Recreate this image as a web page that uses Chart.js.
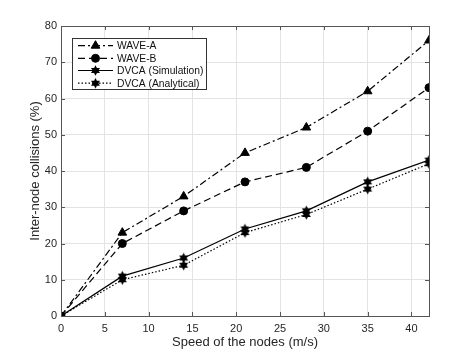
<!DOCTYPE html>
<html><head><meta charset="utf-8">
<script src="https://cdn.jsdelivr.net/npm/chart.js@4"></script>
<style>html,body{margin:0;padding:0;background:#fff}#wrap{width:474px;height:355px}</style>
</head><body><div id="wrap"><canvas id="c" width="474" height="355"></canvas></div>
<script>
const speeds = [0, 7, 14, 21, 28, 35, 42];
const waveA = [0, 23, 33, 45, 52, 62, 76];
const waveB = [0, 20, 29, 37, 41, 51, 63];
const dvcaSim = [0, 11, 16, 24, 29, 37, 43];
const dvcaAna = [0, 10, 14, 23, 28, 35, 42];
const seriesLabels = ['WAVE-A', 'WAVE-B', 'DVCA (Simulation)', 'DVCA (Analytical)'];
const xTicks = [0, 5, 10, 15, 20, 25, 30, 35, 40];
const yTicks = [0, 10, 20, 30, 40, 50, 60, 70, 80];

function hexStar(r) {
  const c = document.createElement('canvas');
  const s = Math.ceil(r * 2 + 2);
  c.width = s; c.height = s;
  const g = c.getContext('2d');
  g.fillStyle = '#000';
  g.translate(s / 2, s / 2);
  g.beginPath();
  for (let i = 0; i < 12; i++) {
    const a = -Math.PI / 2 + i * Math.PI / 6;
    const rr = i % 2 === 0 ? r : r * 0.55;
    g.lineTo(Math.cos(a) * rr, Math.sin(a) * rr);
  }
  g.closePath();
  g.fill();
  return c;
}
const starImg = hexStar(5.2);

const styles = [
  {dash: [7, 3, 2, 3], point: 'triangle', radius: 5},
  {dash: [7, 4], point: 'circle', radius: 4},
  {dash: [], point: starImg, radius: 5},
  {dash: [1.5, 2], point: starImg, radius: 5}
];
const dataSets = [waveA, waveB, dvcaSim, dvcaAna];

const datasets = dataSets.map((vals, i) => ({
  label: seriesLabels[i],
  data: speeds.map((x, j) => ({x: x, y: vals[j]})),
  borderColor: '#000',
  backgroundColor: '#000',
  borderWidth: 1.2,
  borderDash: styles[i].dash,
  pointStyle: styles[i].point,
  pointRadius: styles[i].radius,
  pointBackgroundColor: '#000',
  pointBorderColor: '#000',
  pointBorderWidth: 1,
  tension: 0,
  fill: false
}));

const FONT = '"Liberation Sans", Arial, sans-serif';

const framePlugin = {
  id: 'frame',
  afterDatasetsDraw(chart) {
    const {ctx, chartArea: a, scales} = chart;
    ctx.save();
    ctx.strokeStyle = '#555';
    ctx.lineWidth = 1;
    ctx.setLineDash([]);
    ctx.strokeRect(Math.round(a.left) + 0.5, Math.round(a.top) + 0.5, Math.round(a.right - a.left), Math.round(a.bottom - a.top));
    const tl = 4;
    ctx.beginPath();
    xTicks.forEach(v => {
      const x = Math.round(scales.x.getPixelForValue(v)) + 0.5;
      ctx.moveTo(x, a.bottom); ctx.lineTo(x, a.bottom - tl);
      ctx.moveTo(x, a.top); ctx.lineTo(x, a.top + tl);
    });
    yTicks.forEach(v => {
      const y = Math.round(scales.y.getPixelForValue(v)) + 0.5;
      ctx.moveTo(a.left, y); ctx.lineTo(a.left + tl, y);
      ctx.moveTo(a.right, y); ctx.lineTo(a.right - tl, y);
    });
    ctx.stroke();

    // legend
    const lx = 72, ly = 38, lw = 134, lh = 51;
    ctx.fillStyle = '#fff';
    ctx.fillRect(lx, ly, lw, lh);
    ctx.strokeStyle = '#333';
    ctx.strokeRect(lx + 0.5, ly + 0.5, lw, lh);
    ctx.font = '10.3px ' + FONT;
    ctx.textBaseline = 'middle';
    ctx.textAlign = 'left';
    const rows = [45.7, 58.3, 70.5, 83.2];
    chart.data.datasets.forEach((ds, i) => {
      const y = rows[i];
      ctx.strokeStyle = '#000';
      ctx.lineWidth = 1.2;
      ctx.setLineDash(ds.borderDash);
      ctx.beginPath();
      ctx.moveTo(78, y); ctx.lineTo(113, y);
      ctx.stroke();
      ctx.setLineDash([]);
      ctx.fillStyle = '#000';
      ctx.lineWidth = 1;
      Chart.helpers.drawPoint(ctx, {pointStyle: ds.pointStyle, radius: ds.pointRadius, borderWidth: 1, rotation: 0}, 95.5, y);
      ctx.fillStyle = '#111';
      ctx.fillText(ds.label, 117, y + 0.5);
    });
    ctx.restore();
  }
};

new Chart(document.getElementById('c'), {
  type: 'line',
  data: {datasets},
  options: {
    responsive: false,
    animation: false,
    devicePixelRatio: 1,
    layout: {padding: {left: 0, right: 45, top: 26, bottom: 0}},
    plugins: {legend: {display: false}, tooltip: {enabled: false}},
    elements: {point: {backgroundColor: '#000'}},
    scales: {
      x: {
        type: 'linear', min: 0, max: 42,
        afterBuildTicks(s) { s.ticks = xTicks.map(v => ({value: v})); },
        afterFit(s) { s.height = 39; },
        grid: {color: '#e3e3e3', drawTicks: false},
        border: {display: false},
        ticks: {color: '#262626', font: {family: FONT, size: 11}, padding: 6, maxRotation: 0},
        title: {display: true, text: 'Speed of the nodes (m/s)', color: '#262626', font: {family: FONT, size: 13}, padding: {top: 0, bottom: 5}}
      },
      y: {
        type: 'linear', min: 0, max: 80,
        afterBuildTicks(s) { s.ticks = yTicks.map(v => ({value: v})); },
        afterFit(s) { s.width = 61; },
        grid: {color: '#e3e3e3', drawTicks: false},
        border: {display: false},
        ticks: {color: '#262626', font: {family: FONT, size: 11}, padding: 4},
        title: {display: true, text: 'Inter-node collisions (%)', color: '#262626', font: {family: FONT, size: 13}, padding: {top: 28, bottom: 0}}
      }
    }
  },
  plugins: [framePlugin]
});
</script>
</body></html>
